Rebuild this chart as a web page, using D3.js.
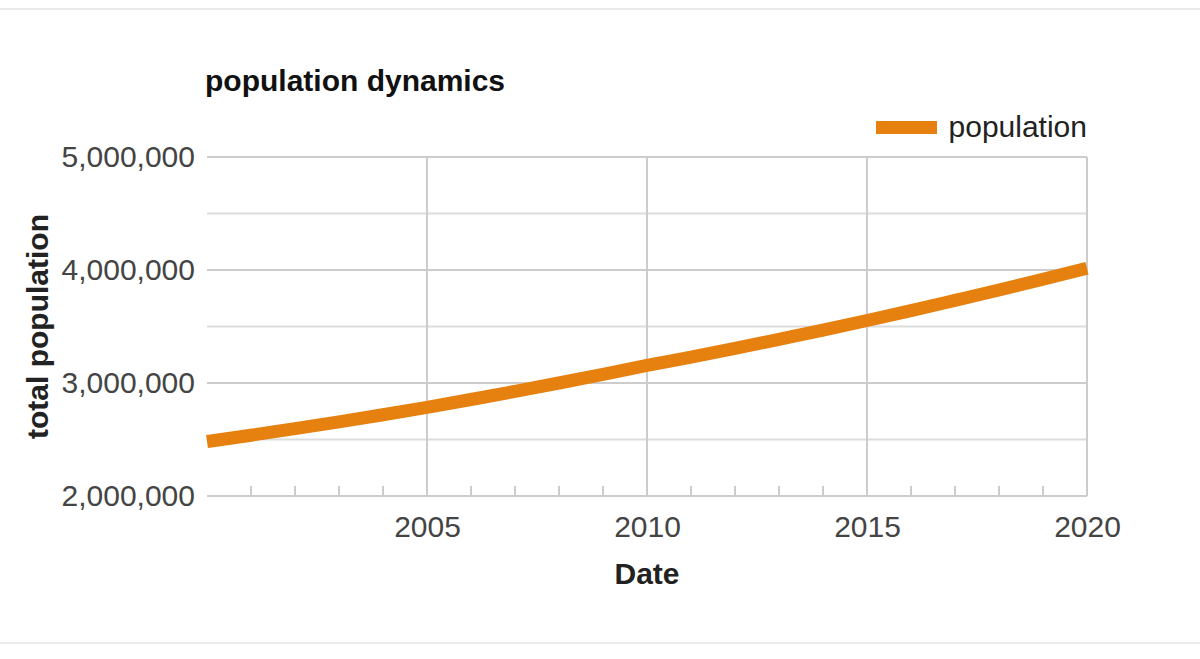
<!DOCTYPE html>
<html>
<head>
<meta charset="utf-8">
<script src="https://cdn.jsdelivr.net/npm/d3@7"></script>
<style>
  html, body { margin: 0; padding: 0; background: #ffffff; }
  svg { display: block; font-family: "Liberation Sans", Arial, sans-serif; }
</style>
</head>
<body>
<svg id="chart" width="1200" height="659"></svg>
<script>
// ---- data ----
const years = [2000, 2001, 2002, 2003, 2004, 2005, 2006, 2007, 2008, 2009, 2010,
               2011, 2012, 2013, 2014, 2015, 2016, 2017, 2018, 2019, 2020];
const population = [2482000, 2538000, 2596000, 2656000, 2719000, 2785000, 2854000,
                    2926000, 3000000, 3076000, 3155000, 3230000, 3307000, 3387000,
                    3468000, 3553000, 3640000, 3731000, 3823000, 3918000, 4015000];
const yTicks = [2000000, 3000000, 4000000, 5000000];
const yMinorTicks = [2500000, 3500000, 4500000];
const xTicks = [2005, 2010, 2015, 2020];
const titleText = "population dynamics";
const seriesName = "population";
const xTitle = "Date";
const yTitle = "total population";

// ---- layout ----
const svg = d3.select("#chart");
const pLeft = 207, pRight = 1087, pTop = 157, pBottom = 496;
const x = d3.scaleLinear().domain([2000, 2020]).range([pLeft, pRight]);
const y = d3.scaleLinear().domain([2000000, 5000000]).range([pBottom, pTop]);
const lineColor = "#e6800e";
const fmt = d3.format(",");

// frame lines
svg.append("line").attr("x1", 0).attr("x2", 1200).attr("y1", 9).attr("y2", 9)
  .attr("stroke", "#ebebeb").attr("stroke-width", 2);
svg.append("line").attr("x1", 0).attr("x2", 1200).attr("y1", 643).attr("y2", 643)
  .attr("stroke", "#ebebeb").attr("stroke-width", 2);

// minor horizontal gridlines
svg.append("g").selectAll("line").data(yMinorTicks).join("line")
  .attr("x1", pLeft).attr("x2", pRight)
  .attr("y1", d => y(d)).attr("y2", d => y(d))
  .attr("stroke", "#dcdcdc").attr("stroke-width", 2);

// vertical gridlines
svg.append("g").selectAll("line").data(xTicks).join("line")
  .attr("x1", d => x(d)).attr("x2", d => x(d))
  .attr("y1", pTop).attr("y2", pBottom)
  .attr("stroke", "#cccccc").attr("stroke-width", 2);

// minor x ticks
svg.append("g").selectAll("line").data(years.filter(d => d % 5 !== 0)).join("line")
  .attr("x1", d => x(d)).attr("x2", d => x(d))
  .attr("y1", pBottom - 10).attr("y2", pBottom)
  .attr("stroke", "#cccccc").attr("stroke-width", 2);

// major horizontal gridlines
svg.append("g").selectAll("line").data(yTicks).join("line")
  .attr("x1", pLeft).attr("x2", pRight)
  .attr("y1", d => y(d)).attr("y2", d => y(d))
  .attr("stroke", "#cccccc").attr("stroke-width", 2);

// y axis labels
const yAxis = d3.axisLeft(y).tickValues(yTicks).tickFormat(fmt).tickSize(0).tickPadding(12);
const gy = svg.append("g").attr("transform", `translate(${pLeft},0)`).call(yAxis);
gy.select(".domain").remove();
gy.selectAll("text").attr("font-size", 30).attr("fill", "#444")
  .attr("font-family", "'Liberation Sans', Arial, sans-serif");

// x axis labels
const xAxis = d3.axisBottom(x).tickValues(xTicks).tickFormat(d3.format("d")).tickSize(0).tickPadding(20);
const gx = svg.append("g").attr("transform", `translate(0,${pBottom})`).call(xAxis);
gx.select(".domain").remove();
gx.selectAll("text").attr("font-size", 30).attr("fill", "#444")
  .attr("font-family", "'Liberation Sans', Arial, sans-serif");

// line
const line = d3.line().x((d, i) => x(years[i])).y(d => y(d)).curve(d3.curveMonotoneX);
svg.append("path").datum(population)
  .attr("d", line).attr("fill", "none")
  .attr("stroke", lineColor).attr("stroke-width", 13)
  .attr("stroke-linejoin", "round");

// title
svg.append("text").attr("x", 205).attr("y", 91)
  .attr("font-size", 30).attr("font-weight", "bold").attr("fill", "#111")
  .text(titleText);

// axis titles
svg.append("text").attr("x", (pLeft + pRight) / 2).attr("y", 584)
  .attr("text-anchor", "middle").attr("font-size", 30).attr("font-weight", "bold").attr("fill", "#222")
  .text(xTitle);
svg.append("text")
  .attr("transform", `translate(48,${(pTop + pBottom) / 2}) rotate(-90)`)
  .attr("text-anchor", "middle").attr("font-size", 30).attr("font-weight", "bold").attr("fill", "#222")
  .text(yTitle);

// legend
const lg = svg.append("g");
lg.append("rect").attr("x", 876).attr("y", 121).attr("width", 61).attr("height", 13)
  .attr("fill", lineColor);
lg.append("text").attr("x", pRight).attr("y", 137).attr("text-anchor", "end")
  .attr("font-size", 30).attr("fill", "#222").text(seriesName);
</script>
</body>
</html>
